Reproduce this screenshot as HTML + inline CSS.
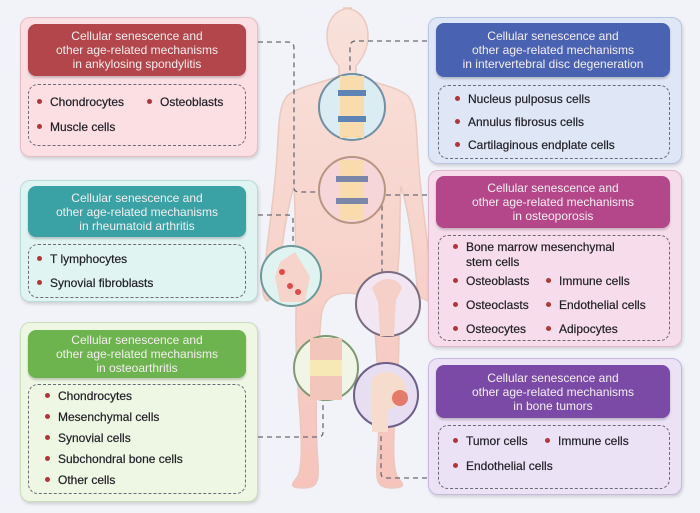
<!DOCTYPE html>
<html><head><meta charset="utf-8"><style>
body{margin:0;width:700px;height:513px;background:#f1f3f8;position:relative;overflow:hidden;font-family:"Liberation Sans",sans-serif}
.o{position:absolute;border-radius:10px;border:1.5px solid;box-shadow:1px 2px 3px rgba(0,0,0,.15)}
.h{position:absolute;border-radius:8px;color:#f4eef0;font-size:12px;line-height:14px;text-align:center;display:flex;align-items:center;justify-content:center;box-shadow:0 2px 2px rgba(0,0,0,.2)}
.i{position:absolute;border:1.3px dashed #6d6a78;border-radius:10px}
.t{position:absolute;font-size:12px;color:#222028;white-space:nowrap;-webkit-text-stroke:0.2px #222028}
.t:before{content:"";position:absolute;left:-13px;top:4px;width:5px;height:5px;border-radius:50%;background:#b2353a}
svg{position:absolute;left:0;top:0}
</style></head><body>
<svg width="700" height="513">
<defs><linearGradient id="sk" x1="0" x2="0" y1="0" y2="1"><stop offset="0" stop-color="#f8e2db"/><stop offset="1" stop-color="#f6c4bb"/></linearGradient></defs>
<path d="M352 8c-16 0-25 12-25 28 0 12 5 22 12 30v10c-20 8-40 10-52 20-8 10-8 25-10 60-2 35-8 70-12 110-3 20-4 30 2 35l10-5 3-30c3-30 8-60 14-80 2 30 0 60 4 90-4 40-2 90 2 140 2 30 2 50-2 60-6 8-10 12 5 12 18 0 16-10 14-40-2-40 0-80 4-130 2-20 12-25 28-25h-3c16 0 26 5 28 25 4 50 6 90 4 130-2 30-4 40 14 40 15 0 11-4 5-12-4-10-4-30-2-60 4-50 6-100 2-140 4-30 2-60 4-90 6 20 11 50 14 80l3 30 10 5c6-5 5-15 2-35-4-40-10-75-12-110-2-35-2-50-10-60-12-10-32-12-52-20V66c7-8 12-18 12-30 0-16-9-28-25-28z" fill="url(#sk)" stroke="#e9c9c0" stroke-width="1.5"/>
<g fill="none" stroke="#6c6a74" stroke-width="1.3" stroke-dasharray="5,4">
<path d="M258 42h30q6 0 6 6v140q0 4 6 4h20"/>
<path d="M436 41h-80q-6 0-6 6v28"/>
<path d="M436 195h-50q-4 0-4 4v90"/>
<path d="M258 215h30q5 0 5 5v28"/>
<path d="M258 437h60q5 0 5-5v-32"/>
<path d="M436 478h-50q-5 0-5-5v-50"/>
</g>
<g stroke-width="2">
<circle cx="352" cy="107" r="33" fill="#dcecf3" stroke="#6f8fa4"/>
<rect x="340" y="76" width="24" height="62" fill="#f8dcae"/>
<rect x="338" y="90" width="28" height="6" fill="#5d84b5"/><rect x="338" y="116" width="28" height="6" fill="#5d84b5"/>
<circle cx="352" cy="190" r="33" fill="#f6d6d8" stroke="#b89580"/>
<rect x="340" y="160" width="24" height="60" fill="#f8dcae"/>
<rect x="336" y="176" width="32" height="6" fill="#7b87a8"/><rect x="336" y="198" width="32" height="6" fill="#7b87a8"/>
<circle cx="291" cy="276" r="30" fill="#dff3f1" stroke="#6f9a9a"/>
<path d="M280 262l15-10 15 25-5 25-25 0-5-25z" fill="#f6d4cc"/>
<circle cx="282" cy="272" r="3" fill="#e04a4a"/><circle cx="290" cy="286" r="3" fill="#e04a4a"/><circle cx="298" cy="292" r="3" fill="#e04a4a"/>
<circle cx="388" cy="304" r="32" fill="#f1e6f2" stroke="#7c6c80"/>
<path d="M372 288c8-12 26-12 30 0l-6 12-2 36h-14l-2-34z" fill="#f5d0c8"/>
<circle cx="326" cy="368" r="32" fill="#f1f5e6" stroke="#7f9a72"/>
<path d="M310 338h32v22h-32zM310 376h32v24h-32z" fill="#f3c6bc"/><rect x="310" y="360" width="32" height="16" fill="#f6e9b6"/>
<circle cx="386" cy="395" r="32" fill="#e8def2" stroke="#6d5f88"/>
<path d="M372 380c6-10 20-10 26-4 8 4 12 16 4 26-6 6-10 6-14 8v22h-16z" fill="#f6dccc"/>
<circle cx="400" cy="398" r="8" fill="#e0624e" opacity=".8"/>
</g>
</svg>

<div class="o" style="left:20px;top:17px;width:236px;height:138px;background:#fbdfe3;border-color:#e8bcc2"></div>
<div class="h" style="left:28px;top:24px;width:218px;height:52px;background:#b3464a">Cellular senescence and<br>other age-related mechanisms<br>in ankylosing spondylitis</div>
<div class="i" style="left:28px;top:84px;width:216px;height:60px"></div>
<div class="t" style="left:50px;top:95px">Chondrocytes</div><div class="t" style="left:160px;top:95px">Osteoblasts</div>
<div class="t" style="left:50px;top:120px">Muscle cells</div>

<div class="o" style="left:20px;top:180px;width:236px;height:120px;background:#e0f4f2;border-color:#b8dcd8"></div>
<div class="h" style="left:28px;top:186px;width:218px;height:51px;background:#3aa2a5">Cellular senescence and<br>other age-related mechanisms<br>in rheumatoid arthritis</div>
<div class="i" style="left:28px;top:244px;width:216px;height:52px"></div>
<div class="t" style="left:50px;top:252px">T lymphocytes</div>
<div class="t" style="left:50px;top:276px">Synovial fibroblasts</div>

<div class="o" style="left:20px;top:322px;width:236px;height:178px;background:#eef7e4;border-color:#c9dfbd"></div>
<div class="h" style="left:28px;top:330px;width:218px;height:48px;background:#6db34e">Cellular senescence and<br>other age-related mechanisms<br>in osteoarthritis</div>
<div class="i" style="left:28px;top:384px;width:216px;height:108px"></div>
<div class="t" style="left:58px;top:389px">Chondrocytes</div>
<div class="t" style="left:58px;top:410px">Mesenchymal cells</div>
<div class="t" style="left:58px;top:431px">Synovial cells</div>
<div class="t" style="left:58px;top:452px">Subchondral bone cells</div>
<div class="t" style="left:58px;top:473px">Other cells</div>

<div class="o" style="left:428px;top:17px;width:252px;height:145px;background:#dfe7f6;border-color:#b8c6e2"></div>
<div class="h" style="left:436px;top:23px;width:234px;height:54px;background:#4a62b2">Cellular senescence and<br>other age-related mechanisms<br>in intervertebral disc degeneration</div>
<div class="i" style="left:438px;top:85px;width:230px;height:72px"></div>
<div class="t" style="left:468px;top:92px">Nucleus pulposus cells</div>
<div class="t" style="left:468px;top:115px">Annulus fibrosus cells</div>
<div class="t" style="left:468px;top:138px">Cartilaginous endplate cells</div>

<div class="o" style="left:428px;top:170px;width:252px;height:175px;background:#f7dcec;border-color:#e0b8cf"></div>
<div class="h" style="left:436px;top:176px;width:234px;height:52px;background:#b4478a">Cellular senescence and<br>other age-related mechanisms<br>in osteoporosis</div>
<div class="i" style="left:438px;top:235px;width:230px;height:104px"></div>
<div class="t" style="left:466px;top:240px;line-height:15px">Bone marrow mesenchymal<br>stem cells</div>
<div class="t" style="left:466px;top:274px">Osteoblasts</div><div class="t" style="left:559px;top:274px">Immune cells</div>
<div class="t" style="left:466px;top:298px">Osteoclasts</div><div class="t" style="left:559px;top:298px">Endothelial cells</div>
<div class="t" style="left:466px;top:322px">Osteocytes</div><div class="t" style="left:559px;top:322px">Adipocytes</div>

<div class="o" style="left:428px;top:358px;width:252px;height:135px;background:#ece2f6;border-color:#c8b8e0"></div>
<div class="h" style="left:436px;top:365px;width:234px;height:53px;background:#7a4aa6">Cellular senescence and<br>other age-related mechanisms<br>in bone tumors</div>
<div class="i" style="left:438px;top:425px;width:230px;height:62px"></div>
<div class="t" style="left:466px;top:434px">Tumor cells</div><div class="t" style="left:558px;top:434px">Immune cells</div>
<div class="t" style="left:466px;top:459px">Endothelial cells</div>
</body></html>
